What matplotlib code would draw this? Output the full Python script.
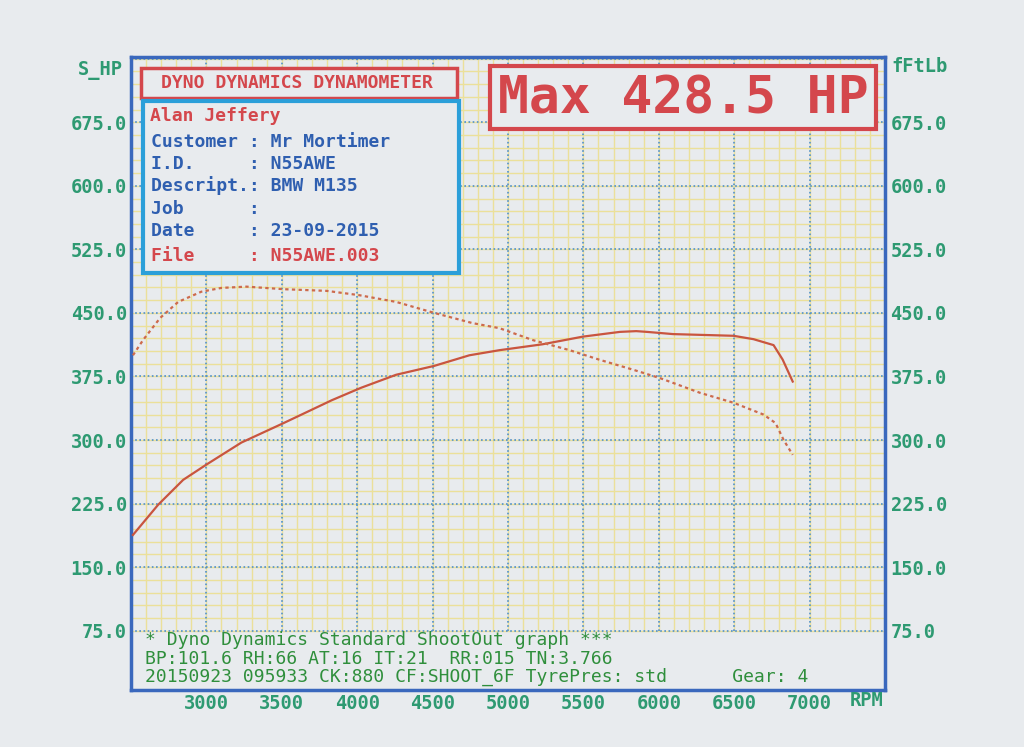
import numpy as np
import matplotlib
matplotlib.use('Agg')
from matplotlib import pyplot as plt
from matplotlib.patches import Rectangle

# power curve (S_HP, left axis)
power_rpm = [2513, 2680, 2846, 3000, 3232, 3512, 3832, 4025, 4258, 4511, 4744,
             4943, 5230, 5496, 5742, 5850, 5922, 6095, 6495, 6628, 6761, 6821, 6888]
power_hp = [188, 223.6, 253, 271, 297, 320, 347, 361.6, 377, 387.5, 400,
            406, 413, 422, 427.6, 428.5, 427.6, 425, 423, 419, 412, 395, 369]

# torque curve (fFtLb, right axis)
torque_rpm = [2513, 2580, 2693, 2813, 2966, 3099, 3266, 3512, 3798, 4011, 4258,
              4511, 4764, 4943, 5163, 5409, 5609, 5829, 6009, 6275, 6495, 6695,
              6774, 6828, 6888]
torque_ft = [400, 418, 444, 463, 475, 479.5, 481, 478, 476, 471, 463,
             450, 438, 432, 418, 406, 394.6, 383, 373, 355.6, 344, 330,
             320, 300, 282.5]

y_ticks = [75, 150, 225, 300, 375, 450, 525, 600, 675]
x_ticks = [3000, 3500, 4000, 4500, 5000, 5500, 6000, 6500, 7000]

header_title = "DYNO DYNAMICS DYNAMOMETER"
operator = "Alan Jeffery"
info_keys = ["Customer", "I.D.", "Descript.", "Job", "Date", "File"]
info_vals = ["Mr Mortimer", "N55AWE", "BMW M135", "", "23-09-2015", "N55AWE.003"]
footer_lines = ["* Dyno Dynamics Standard ShootOut graph ***",
                "BP:101.6 RH:66 AT:16 IT:21  RR:015 TN:3.766",
                "20150923 095933 CK:880 CF:SHOOT_6F TyrePres: std      Gear: 4"]

BG = '#e8ebee'
RED = '#d4474c'
BLUE_TXT = '#2f5fb0'
GREEN = '#2e9a72'
FOOT_GREEN = '#2f8f3c'
FRAME = '#3a68bd'
CYAN = '#2b9fd9'
MONO = 'DejaVu Sans Mono'

W, H = 1024, 747
fig = plt.figure(figsize=(W / 100, H / 100), dpi=100)
fig.patch.set_facecolor(BG)


def fx(x):
    return x / W


def fy(y):
    return 1 - y / H


ax = fig.add_axes([fx(131), fy(690), fx(885) - fx(131), fy(57) - fy(690)])
ax.set_facecolor(BG)
ax.set_xlim(2500, 7500)
ax.set_ylim(5, 752)

# grid: pale yellow minor, blue dotted major on top
ax.vlines(np.arange(2500, 7501, 100), 75, 752, color='#ebe09a', lw=1.0, zorder=1)
ax.hlines(np.arange(75, 752, 15), 2500, 7500, color='#ebe09a', lw=1.0, zorder=1)
ax.vlines(np.arange(2500, 7501, 500), 75, 752, color='#4f90cc', lw=1.2,
          linestyle=(0, (1, 1.5)), zorder=2)
ax.hlines(np.arange(75, 752, 75), 2500, 7500, color='#4f90cc', lw=1.2,
          linestyle=(0, (1, 1.5)), zorder=2)

ax.plot(power_rpm, power_hp, color='#c9553f', lw=1.6, zorder=4)
ax.plot(torque_rpm, torque_ft, color='#cd6a4c', lw=1.6, linestyle=(0, (1.5, 1.5)), zorder=4)

for s in ax.spines.values():
    s.set_color(FRAME)
    s.set_linewidth(2.5)

tick_font = dict(family=MONO, weight='bold', size=13.5)
ax.set_yticks(y_ticks)
ax.set_yticklabels([f"{v:.1f}" for v in y_ticks], color=GREEN, **tick_font)
ax.set_xticks(x_ticks)
ax.set_xticklabels([str(v) for v in x_ticks], color=GREEN, **tick_font)
ax.tick_params(axis='y', length=0, pad=3)
ax.tick_params(axis='x', length=0, pad=3)

ax2 = ax.twinx()
ax2.set_ylim(ax.get_ylim())
ax2.set_yticks(y_ticks)
ax2.set_yticklabels([f"{v:.1f}" for v in y_ticks], color=GREEN, **tick_font)
ax2.tick_params(axis='y', length=0, pad=4)
for s in ax2.spines.values():
    s.set_visible(False)

fig.text(fx(123), fy(70), "S_HP", ha='right', va='center', color=GREEN, **tick_font)
fig.text(fx(891), fy(67), "fFtLb", ha='left', va='center', color=GREEN, **tick_font)
fig.text(fx(867), fy(700), "RPM", ha='center', va='center', color=GREEN, **tick_font)


def box(x0, y0, x1, y1, color, lw):
    fig.patches.append(Rectangle((fx(x0), fy(y1)), fx(x1) - fx(x0), fy(y0) - fy(y1),
                                 transform=fig.transFigure, facecolor=BG,
                                 edgecolor=color, lw=lw, zorder=5))


box(141, 68, 457, 98, RED, 2.5)
fig.text(fx(297), fy(83), header_title, ha='center', va='center', color=RED,
         family=MONO, weight='bold', size=13, zorder=6)

box(143, 101, 459, 273, CYAN, 3)
fig.text(fx(150), fy(116), operator, ha='left', va='center', color=RED,
         family=MONO, weight='bold', size=13, zorder=6)
line_y = [142, 164, 186, 209, 231, 256]
for k, v, yy in zip(info_keys, info_vals, line_y):
    col = RED if k == "File" else BLUE_TXT
    fig.text(fx(151), fy(yy), f"{k:<9}: {v}", ha='left', va='center', color=col,
             family=MONO, weight='bold', size=13, zorder=6)

box(490, 66, 876, 129, RED, 3)
fig.text(fx(683), fy(99), f"Max {max(power_hp):.1f} HP", ha='center', va='center',
         color=RED, family=MONO, weight='bold', size=37, zorder=6)

for line, yy in zip(footer_lines, [640, 659, 677]):
    fig.text(fx(145), fy(yy), line, ha='left', va='center', color=FOOT_GREEN,
             family=MONO, size=13, zorder=6)

fig.savefig('out.png', dpi=100, facecolor=BG)
